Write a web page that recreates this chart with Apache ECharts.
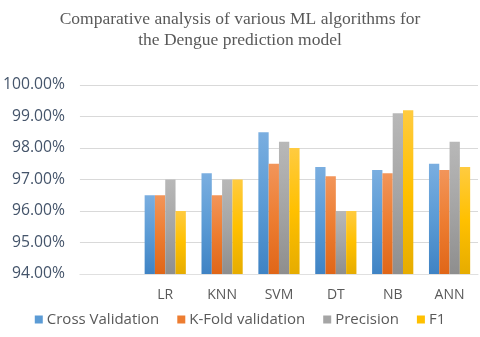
<!DOCTYPE html>
<html><head><meta charset="utf-8">
<script src="https://cdn.jsdelivr.net/npm/echarts@6/dist/echarts.min.js"></script>
<style>html,body{margin:0;padding:0;background:#fff}#c{width:480px;height:337px}</style>
</head><body><div id="c"></div>
<script>
var categories = ['', 'LR', 'KNN', 'SVM', 'DT', 'NB', 'ANN'];
var crossValidation = [null, 0.965, 0.972, 0.985, 0.974, 0.973, 0.975];
var kFoldValidation = [null, 0.965, 0.965, 0.975, 0.971, 0.972, 0.973];
var precision = [null, 0.970, 0.970, 0.982, 0.960, 0.991, 0.982];
var f1 = [null, 0.960, 0.970, 0.980, 0.960, 0.992, 0.974];
var seriesNames = ['Cross Validation', 'K-Fold validation', 'Precision', 'F1'];
var baseColors = ['#5B9BD5', '#ED7D31', '#A5A5A5', '#FFC000'];
var topColors = ['#7AAEE0', '#F2955A', '#B8B8B8', '#FFCB40'];
var bottomColors = ['#3F83C4', '#E06618', '#8E8E8E', '#E6AC00'];

function grad(i){
  return new echarts.graphic.LinearGradient(0,0,0,1,[
    {offset:0,color:topColors[i]},{offset:0.5,color:baseColors[i]},{offset:1,color:bottomColors[i]}]);
}
var datas = [crossValidation, kFoldValidation, precision, f1];
var chart = echarts.init(document.getElementById('c'));
chart.setOption({
  animation:false,
  title:{text:'Comparative analysis of various ML algorithms for\nthe Dengue prediction model',
    left:'center', top:4,
    textStyle:{fontFamily:'Liberation Serif', fontSize:17.5, fontWeight:'normal', color:'#595959', lineHeight:21}},
  legend:{data:seriesNames.map(function(n,i){return {name:n,itemStyle:{color:baseColors[i]}};}),
    bottom:5, left:'center', itemWidth:8, itemHeight:8, itemGap:18, icon:'rect',
    textStyle:{fontFamily:'Open Sans', fontSize:15, color:'#595959', padding:[0,0,0,-1]}},
  grid:{left:77, right:2, top:85, bottom:63},
  xAxis:{type:'category', data:categories,
    axisLine:{show:true,lineStyle:{color:'#E0E0E0'}}, axisTick:{show:false},
    axisLabel:{fontFamily:'Open Sans', fontSize:14, color:'#595959', margin:14}},
  yAxis:{type:'value', min:0.94, max:1.0, interval:0.01,
    axisLine:{show:false}, axisTick:{show:false},
    splitLine:{lineStyle:{color:'#D9D9D9', width:1}},
    axisLabel:{fontFamily:'Open Sans', fontSize:15.7, color:'#44546A', margin:15,
      formatter:function(v){return (v*100).toFixed(2)+'%';}}},
  series:datas.map(function(d,i){return {name:seriesNames[i], type:'bar', data:d,
    barWidth:10.3, barGap:'0%', barCategoryGap:'28%',
    itemStyle:{color:grad(i)}};})
});
</script></body></html>
